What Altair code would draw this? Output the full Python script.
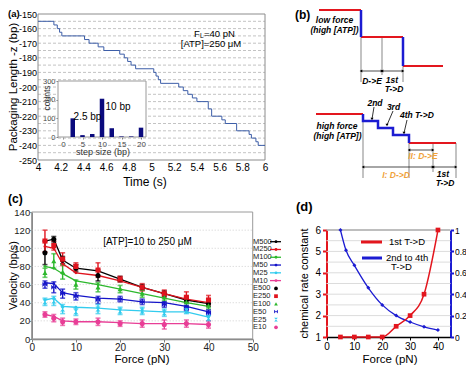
import altair as alt
import pandas as pd

FONT = "Liberation Sans"
NARROW = "Liberation Sans Narrow, Liberation Sans"
W, H = 458, 357
RED = "#e3161e"
BLUE = "#1c1cd2"
ORANGE = "#f0a23a"

# ---------------- (a) packaging trace + inset histogram ----------------
trace_time = [4.00, 4.14, 4.17, 4.19, 4.21, 4.41, 4.45, 4.53, 4.58, 4.72, 4.76, 4.79, 4.82,
              4.86, 5.02, 5.04, 5.06, 5.08, 5.24, 5.28, 5.32, 5.36, 5.40, 5.50, 5.53, 5.62,
              5.65, 5.75, 5.86, 5.88, 5.92, 5.94, 6.00]
trace_len = [-155, -157.5, -160, -162.5, -165, -167.5, -170, -172.5, -175, -177.5, -180,
             -182.5, -185, -187.5, -190, -192.5, -195, -197.5, -200, -202.5, -205, -207.5,
             -210, -215, -220, -222.5, -225, -230, -232.5, -235, -237.5, -240, -240]
time_ticks = [4, 4.2, 4.4, 4.6, 4.8, 5, 5.2, 5.4, 5.6, 5.8, 6]
len_ticks = [-150, -160, -170, -180, -190, -200, -210, -220, -230, -240, -250]
len_grid = [-155, -160, -165, -170, -175, -180, -185, -190, -195, -200, -205, -210, -215,
            -220, -225, -230, -235, -240, -245]
step_size = [2.5, 5, 7.5, 10, 12.5, 15, 17.5, 20]
step_count = [100, 10, 16, 205, 47, 3, 3, 50]
step_ticks = [0, 5, 10, 15, 20]
count_ticks = [0, 100, 200, 300]

# ---------------- (b) schematic (diagram units) ----------------
red_x1 = [19, 61, 103, 16, 109]
red_x2 = [61, 103, 143, 63, 156]
red_y = [10, 37, 66, 114, 143]
blue_id = ["a", "a", "b", "b", "s", "s", "s", "s", "s", "s", "s", "s"]
blue_x = [61, 61, 103, 103, 63, 63, 78, 78, 93, 93, 109, 109]
blue_y = [10, 37, 37, 66, 114, 121, 121, 128, 128, 135, 135, 143]
guide_x = [61, 82, 103, 63, 109, 133, 156]
guide_y1 = [37, 37, 66, 114, 143, 143, 143]
guide_y2 = [82, 75, 82, 178, 178, 172, 178]
dim_x1 = [61, 82, 109, 63, 133]
dim_x2 = [82, 103, 133, 133, 156]
dim_y = [71, 71, 150, 167, 167]
ptr_x1 = [74, 93, 107]
ptr_y1 = [107, 111, 120]
ptr_x2 = [72, 87, 104]
ptr_y2 = [119, 125, 133]

# ---------------- (c) velocity vs force ----------------
force_c = [3, 5, 7, 10, 15, 20, 25, 30, 35, 40]
atp_levels = ["500", "250", "100", "50", "25", "10"]
model_vel = {
    "500": [108, 110, 87, 78, 75, 66, 57, 50, 43, 39],
    "250": [102, 100, 83, 73, 70, 64, 57, 50, 44, 40],
    "100": [80, 78, 72, 64, 60, 55, 50, 45, 40, 36],
    "50": [62, 61, 51, 48, 45, 44, 41, 40, 36, 30],
    "25": [43, 45, 36, 35, 34, 32, 31, 30, 30, 24],
    "10": [27, 25, 20, 19, 19, 18, 17, 17, 17, 16],
}
exp_vel = {
    "500": [95, 110, 87, 78, 70, 66, 57, 50, 43, 39],
    "250": [108, 103, 88, 80, 76, 66, 57, 50, 46, 43],
    "100": [73, 86, 74, 60, 57, 55, 50, 46, 41, 37],
    "50": [60, 57, 50, 47, 43, 44, 41, 38, 34, 29],
    "25": [41, 42, 33, 30, 33, 31, 31, 29, 31, 23],
    "10": [27, 23, 19, 19, 19, 17, 17, 16, 17, 16],
}
exp_err = {
    "500": [13, 3, 4, 4, 6, 3, 3, 3, 3, 3],
    "250": [12, 5, 7, 4, 8, 3, 4, 4, 6, 5],
    "100": [5, 8, 8, 5, 5, 4, 4, 4, 4, 4],
    "50": [4, 6, 5, 4, 4, 3, 3, 3, 3, 3],
    "25": [4, 5, 5, 4, 5, 4, 4, 4, 3, 3],
    "10": [3, 4, 4, 3, 4, 3, 4, 5, 4, 4],
}
legend_c = ["M500", "M250", "M100", "M50", "M25", "M10",
            "E500", "E250", "E100", "E50", "E25", "E10"]
vel_ticks = [0, 20, 40, 60, 80, 100, 120, 140]
force_ticks_c = [0, 10, 20, 30, 40, 50]
vel_grid = [20, 40, 60, 80, 100, 120]

# ---------------- (d) chemical rate constants ----------------
force_first = [5, 10, 15, 20, 25, 30, 35, 40]
rate_first = [1.0, 1.0, 1.0, 1.0, 1.5, 2.0, 3.0, 6.0]
force_rest = [5, 7, 10, 15, 20, 25, 30, 35, 40]
rate_rest = [1.0, 0.81, 0.67, 0.46, 0.30, 0.20, 0.14, 0.095, 0.065]
force_ticks_d = [0, 10, 20, 30, 40]
left_ticks = [1, 2, 3, 4, 5, 6]
right_ticks = [0, 0.2, 0.4, 0.6, 0.8, 1]
rate_grid = [1.5, 2, 2.5, 3, 3.5, 4, 4.5, 5, 5.5]


# ---------------- helpers ----------------
def sc(domain, rng):
    return alt.Scale(domain=domain, range=rng, nice=False, zero=False)


def one():
    return pd.DataFrame({"k": [0]})


def txt(s, x, y, size=10, weight="normal", style="normal", align="center",
        baseline="middle", angle=0, color="black", font=FONT):
    return alt.Chart(pd.DataFrame({"label": [s]})).mark_text(
        font=font, fontSize=size, fontWeight=weight, fontStyle=style,
        align=align, baseline=baseline, angle=angle, color=color
    ).encode(x=alt.value(x), y=alt.value(y), text="label:N")


def ax(orient, offset, values, size=9, fmt=None, expr=None, domain=False,
       dcolor="#808080", dwidth=1.0, ticks=False, tcolor="#808080", tsize=3,
       twidth=1.0, pad=2, lcolor="black", font=NARROW):
    kw = dict(orient=orient, offset=offset, values=values, title=None, grid=False,
              labelFont=font, labelFontSize=size, labelColor=lcolor, labelPadding=pad,
              labelFlush=False, labelOverlap=False, domain=domain, ticks=ticks)
    if fmt:
        kw["format"] = fmt
    if expr:
        kw["labelExpr"] = expr
    if domain:
        kw.update(domainColor=dcolor, domainWidth=dwidth)
    if ticks:
        kw.update(tickColor=tcolor, tickSize=tsize, tickWidth=twidth)
    return alt.Axis(**kw)


layers = []

# ================= (a) =================
XA = sc([4, 6], [30, 257])
YA = sc([-250, -150], [152, 6])
layers.append(alt.Chart(pd.DataFrame({"g": len_grid})).mark_rule(
    color="#b4b4b4", strokeWidth=0.8, strokeDash=[3, 2]).encode(
    x=alt.XDatum(4, scale=XA, axis=None), x2=alt.X2Datum(6),
    y=alt.Y("g:Q", scale=YA, axis=None)))
layers.append(alt.Chart(one()).mark_rect(fillOpacity=0, stroke="#8c8c8c", strokeWidth=1).encode(
    x=alt.XDatum(4, scale=XA, axis=None), x2=alt.X2Datum(6),
    y=alt.YDatum(-250, scale=YA, axis=None), y2=alt.Y2Datum(-150)))
layers.append(alt.Chart(pd.DataFrame({"t": trace_time, "z": trace_len})).mark_line(
    interpolate="step-after", color="#3d5ea8", strokeWidth=1).encode(
    x=alt.X("t:Q", scale=XA, axis=ax("bottom", 152 - H, time_ticks, size=10, fmt="~g", pad=2)),
    y=alt.Y("z:Q", scale=YA, axis=ax("left", -30, len_ticks, size=9, expr="'' + datum.value",
                                     pad=1.5))))

# inset
XI = sc([0, 20], [50, 138])
YI = sc([0, 300], [129, 73])
layers.append(alt.Chart(one()).mark_rect(fill="white", stroke="#9a9a9a", strokeWidth=1).encode(
    x=alt.XDatum(0, scale=XI, axis=None), x2=alt.X2Datum(20),
    y=alt.YDatum(0, scale=YI, axis=None), y2=alt.Y2Datum(300)))
layers.append(alt.Chart(pd.DataFrame({"s": step_size, "c": step_count})).mark_bar(
    size=4.5, color="#0a0a7d").encode(
    x=alt.X("s:Q", scale=XI, axis=ax("bottom", 129 - H, step_ticks, size=8, ticks=True,
                                     tsize=2, pad=1, lcolor="#444")),
    y=alt.Y("c:Q", scale=YI, axis=ax("left", -50, count_ticks, size=7.5, ticks=True,
                                     tsize=2, pad=1, lcolor="#444")),
    y2=alt.Y2Datum(0)))

layers += [
    txt("(a)", 0, 1, size=9.5, weight="bold", align="left", baseline="top"),
    txt("Packaging Length -z (bp)", 6, 79, size=11.5, angle=270),
    txt("Time (s)", 137, 174, size=12),
    txt("F", 186, 25.5, size=9.5, align="left"),
    txt("L", 192, 28, size=6.5, align="left"),
    txt("=40 pN", 196, 25.5, size=9.5, align="left"),
    txt("[ATP]=250 μM", 203, 36, size=9.5),
    txt("counts", 39, 90, size=8.5, angle=270, color="#333"),
    txt("step size (bp)", 95, 144, size=9, color="#333"),
    txt("2.5 bp", 79.5, 109.3, size=10),
    txt("10 bp", 110, 99.3, size=10),
]

# ================= (b) =================
XB = sc([0, 170], [292, 462])
YB = sc([10, 190], [2, 182])
layers.append(alt.Chart(pd.DataFrame({"gx": guide_x, "gy1": guide_y1, "gy2": guide_y2})).mark_rule(
    color="#555555", strokeWidth=0.7).encode(
    x=alt.X("gx:Q", scale=XB, axis=None),
    y=alt.Y("gy1:Q", scale=YB, axis=None), y2="gy2:Q"))
layers.append(alt.Chart(pd.DataFrame({"x1": red_x1, "x2": red_x2, "y": red_y})).mark_rule(
    color=RED, strokeWidth=2).encode(
    x=alt.X("x1:Q", scale=XB, axis=None), x2="x2:Q",
    y=alt.Y("y:Q", scale=YB, axis=None)))
layers.append(alt.Chart(pd.DataFrame({"id": blue_id, "x": blue_x, "y": blue_y,
                                      "i": list(range(len(blue_x)))})).mark_line(
    color=BLUE, strokeWidth=2.5).encode(
    x=alt.X("x:Q", scale=XB, axis=None), y=alt.Y("y:Q", scale=YB, axis=None),
    detail="id:N", order="i:Q"))
dim_df = pd.DataFrame({"x1": dim_x1, "x2": dim_x2, "y": dim_y})
layers.append(alt.Chart(dim_df).mark_rule(color="black", strokeWidth=0.7).encode(
    x=alt.X("x1:Q", scale=XB, axis=None), x2="x2:Q", y=alt.Y("y:Q", scale=YB, axis=None)))
layers.append(alt.Chart(dim_df).mark_point(shape="triangle-left", filled=True, size=9,
                                           color="black", opacity=1).encode(
    x=alt.X("x1:Q", scale=XB, axis=None), y=alt.Y("y:Q", scale=YB, axis=None)))
layers.append(alt.Chart(dim_df).mark_point(shape="triangle-right", filled=True, size=9,
                                           color="black", opacity=1).encode(
    x=alt.X("x2:Q", scale=XB, axis=None), y=alt.Y("y:Q", scale=YB, axis=None)))
ptr_df = pd.DataFrame({"x1": ptr_x1, "y1": ptr_y1, "x2": ptr_x2, "y2": ptr_y2})
layers.append(alt.Chart(ptr_df).mark_rule(color="black", strokeWidth=0.8).encode(
    x=alt.X("x1:Q", scale=XB, axis=None), x2="x2:Q",
    y=alt.Y("y1:Q", scale=YB, axis=None), y2="y2:Q"))
layers.append(alt.Chart(ptr_df).mark_point(shape="triangle-down", filled=True, size=9,
                                           color="black", opacity=1).encode(
    x=alt.X("x2:Q", scale=XB, axis=None), y=alt.Y("y2:Q", scale=YB, axis=None)))

bi = dict(size=8.5, weight="bold", style="italic")
layers += [
    txt("(b)", 287, 2, size=12, weight="bold", align="left", baseline="top"),
    txt("low force", 326.5, 12, **bi),
    txt("(high [ATP])", 326.5, 22, **bi),
    txt("D->E", 364, 73, **bi),
    txt("1st", 384, 72, **bi),
    txt("T->D", 386, 81, **bi),
    txt("2nd", 367, 95, **bi),
    txt("3rd", 385.5, 99, **bi),
    txt("4th T->D", 392, 107, align="left", **bi),
    txt("high force", 329, 118, **bi),
    txt("(high [ATP])", 329.5, 128, **bi),
    txt("II: D->E", 415, 148, color=ORANGE, **bi),
    txt("I: D->D", 388, 167, color=ORANGE, **bi),
    txt("1st", 435, 166, **bi),
    txt("T->D", 437, 175, **bi),
]

# ================= (c) =================
XC = sc([0, 50], [23.7, 244.7])
YC = sc([0, 140], [331, 204])
colC = alt.Scale(domain=atp_levels,
                 range=["#000000", "#e0141e", "#2db82d", "#1515c8", "#33ccee", "#e83e96"])
shC = alt.Scale(domain=atp_levels,
                range=["circle", "square", "triangle-up", "M-1,-1L1,1L1,-1L-1,1Z",
                       "M-1,-1L1,-1L-1,1L1,1Z", "circle"])
rows_m, rows_e = [], []
for a in atp_levels:
    for f, m in zip(force_c, model_vel[a]):
        rows_m.append({"f": f, "v": m, "atp": a})
    for f, e, s in zip(force_c, exp_vel[a], exp_err[a]):
        rows_e.append({"f": f, "v": e, "lo": e - s, "hi": e + s, "atp": a})
dm = pd.DataFrame(rows_m)
de = pd.DataFrame(rows_e)
gray = "#7f7f7f"
layers.append(alt.Chart(pd.DataFrame({"g": vel_grid})).mark_rule(
    color="#c4c4c4", strokeWidth=0.8, strokeDash=[1, 2]).encode(
    x=alt.XDatum(0, scale=XC, axis=None), x2=alt.X2Datum(50),
    y=alt.Y("g:Q", scale=YC, axis=None)))
layers.append(alt.Chart(one()).mark_rect(fillOpacity=0, stroke="#9a9a9a", strokeWidth=1).encode(
    x=alt.XDatum(0, scale=XC, axis=None), x2=alt.X2Datum(50),
    y=alt.YDatum(0, scale=YC, axis=None), y2=alt.Y2Datum(140)))
layers.append(alt.Chart(de).mark_rule(strokeWidth=1.4).encode(
    x=alt.X("f:Q", scale=XC, axis=None), y=alt.Y("lo:Q", scale=YC, axis=None), y2="hi:Q",
    color=alt.Color("atp:N", scale=colC, legend=None)))
for end in ["lo", "hi"]:
    layers.append(alt.Chart(de).mark_tick(orient="horizontal", size=5, thickness=1.6).encode(
        x=alt.X("f:Q", scale=XC, axis=None), y=alt.Y(f"{end}:Q", scale=YC, axis=None),
        color=alt.Color("atp:N", scale=colC, legend=None)))
layers.append(alt.Chart(dm).mark_line(strokeWidth=1.3).encode(
    x=alt.X("f:Q", scale=XC, axis=ax("bottom", 331 - H, force_ticks_c, size=10, domain=True,
                                     dcolor=gray, dwidth=1.5, ticks=True, tcolor=gray, tsize=3,
                                     pad=0, lcolor="#222")),
    y=alt.Y("v:Q", scale=YC, axis=ax("left", -23.7, vel_ticks, size=9.5, domain=True,
                                     dcolor=gray, dwidth=1.5, ticks=True, tcolor=gray, tsize=2,
                                     pad=0, lcolor="#222")),
    color=alt.Color("atp:N", scale=colC, legend=None)))
layers.append(alt.Chart(dm).mark_point(filled=True, size=8, opacity=1).encode(
    x=alt.X("f:Q", scale=XC, axis=None), y=alt.Y("v:Q", scale=YC, axis=None),
    color=alt.Color("atp:N", scale=colC, legend=None)))
layers.append(alt.Chart(de).mark_point(filled=True, size=26, opacity=1).encode(
    x=alt.X("f:Q", scale=XC, axis=None), y=alt.Y("v:Q", scale=YC, axis=None),
    color=alt.Color("atp:N", scale=colC, legend=None),
    shape=alt.Shape("atp:N", scale=shC, legend=None)))

# legend of (c)
leg_df = pd.DataFrame({"name": legend_c, "atp": [n[1:] for n in legend_c],
                       "kind": [n[0] for n in legend_c]})
YLC = alt.Scale(type="point", domain=legend_c, range=[233.7, 319.3], padding=0)
layers.append(alt.Chart(leg_df).mark_text(font=NARROW, fontSize=7.5, align="left",
                                          baseline="middle", color="#222").encode(
    x=alt.value(245), y=alt.Y("name:N", scale=YLC, axis=None), text="name:N"))
layers.append(alt.Chart(leg_df).transform_filter("datum.kind == 'M'").mark_rule(
    strokeWidth=1.3).encode(
    x=alt.value(262), x2=alt.value(273), y=alt.Y("name:N", scale=YLC, axis=None),
    color=alt.Color("atp:N", scale=colC, legend=None)))
layers.append(alt.Chart(leg_df).transform_filter("datum.kind == 'M'").mark_point(
    filled=True, size=8, opacity=1).encode(
    x=alt.value(268), y=alt.Y("name:N", scale=YLC, axis=None),
    color=alt.Color("atp:N", scale=colC, legend=None)))
layers.append(alt.Chart(leg_df).transform_filter("datum.kind == 'E'").mark_point(
    filled=True, size=14, opacity=1).encode(
    x=alt.value(268), y=alt.Y("name:N", scale=YLC, axis=None),
    color=alt.Color("atp:N", scale=colC, legend=None),
    shape=alt.Shape("atp:N", scale=shC, legend=None)))

layers += [
    txt("(c)", 0, 191, size=12, weight="bold", align="left"),
    txt("Velocity  (bp/s)", 5.5, 267.5, size=11, angle=270),
    txt("Force (pN)", 134, 357, size=11.5, baseline="bottom"),
    txt("[ATP]=10 to 250 μM", 139.5, 233.7, size=10),
]

# ================= (d) =================
XD = sc([0, 44.5], [318.5, 442.5])
YDL = sc([1, 6], [329, 222])
YDR = sc([0, 1], [329, 222])
layers.append(alt.Chart(pd.DataFrame({"g": rate_grid})).mark_rule(
    color="#dcdcdc", strokeWidth=1).encode(
    x=alt.XDatum(0, scale=XD, axis=None), x2=alt.X2Datum(44.5),
    y=alt.Y("g:Q", scale=YDL, axis=None)))
layers.append(alt.Chart(one()).mark_rule(color="#a8a8a8", strokeWidth=1.5).encode(
    x=alt.XDatum(0, scale=XD, axis=None), x2=alt.X2Datum(44.5),
    y=alt.YDatum(6, scale=YDL, axis=None)))
d1 = pd.DataFrame({"f": force_first, "r": rate_first})
d2 = pd.DataFrame({"f": force_rest, "r": rate_rest})
layers.append(alt.Chart(d2).mark_line(interpolate="monotone", color=BLUE, strokeWidth=1.3).encode(
    x=alt.X("f:Q", scale=XD, axis=None),
    y=alt.Y("r:Q", scale=YDR, axis=ax("right", 442.5 - W, right_ticks, size=8.5, fmt="~g",
                                      domain=True, dcolor=BLUE, dwidth=2, ticks=True,
                                      tcolor=BLUE, tsize=3, twidth=2, pad=1))))
layers.append(alt.Chart(d2).mark_point(shape="diamond", filled=True, size=16, color=BLUE,
                                       opacity=1).encode(
    x=alt.X("f:Q", scale=XD, axis=None), y=alt.Y("r:Q", scale=YDR, axis=None)))
layers.append(alt.Chart(d1).mark_line(interpolate="monotone", color=RED, strokeWidth=1.5).encode(
    x=alt.X("f:Q", scale=XD, axis=ax("bottom", 329 - H, force_ticks_d, size=10, domain=True,
                                     dcolor="black", dwidth=1.5, ticks=True, tcolor="black",
                                     tsize=3, pad=1)),
    y=alt.Y("r:Q", scale=YDL, axis=ax("left", -318.5, left_ticks, size=10, domain=True,
                                      dcolor=RED, dwidth=2, ticks=True, tcolor=RED, tsize=4,
                                      twidth=2, pad=2))))
layers.append(alt.Chart(d1).mark_point(shape="square", filled=True, size=22, color=RED,
                                       opacity=1).encode(
    x=alt.X("f:Q", scale=XD, axis=None), y=alt.Y("r:Q", scale=YDL, axis=None)))
layers.append(alt.Chart(one()).mark_rule(color=RED, strokeWidth=3).encode(
    x=alt.value(353), x2=alt.value(374), y=alt.value(234)))
layers.append(alt.Chart(one()).mark_rule(color=BLUE, strokeWidth=3).encode(
    x=alt.value(354), x2=alt.value(374), y=alt.value(250)))
layers += [
    txt("(d)", 288, 199, size=13, weight="bold", align="left"),
    txt("chemical rate constant", 297, 275.5, size=11, angle=270),
    txt("Force (pN)", 382, 357, size=11.5, baseline="bottom"),
    txt("1st T->D", 381, 234, size=9.5, align="left"),
    txt("2nd to 4th", 378, 249.5, size=9.5, align="left"),
    txt("T->D", 383, 259, size=9.5, align="left"),
]

chart = alt.layer(*layers).resolve_scale(
    x="independent", y="independent", color="independent", shape="independent"
).properties(
    width=W, height=H, autosize=alt.AutoSizeParams(type="none"), padding=0
).configure(font=FONT).configure_view(stroke=None)

chart.save("out.html", embed_options={"renderer": "svg", "actions": False})
